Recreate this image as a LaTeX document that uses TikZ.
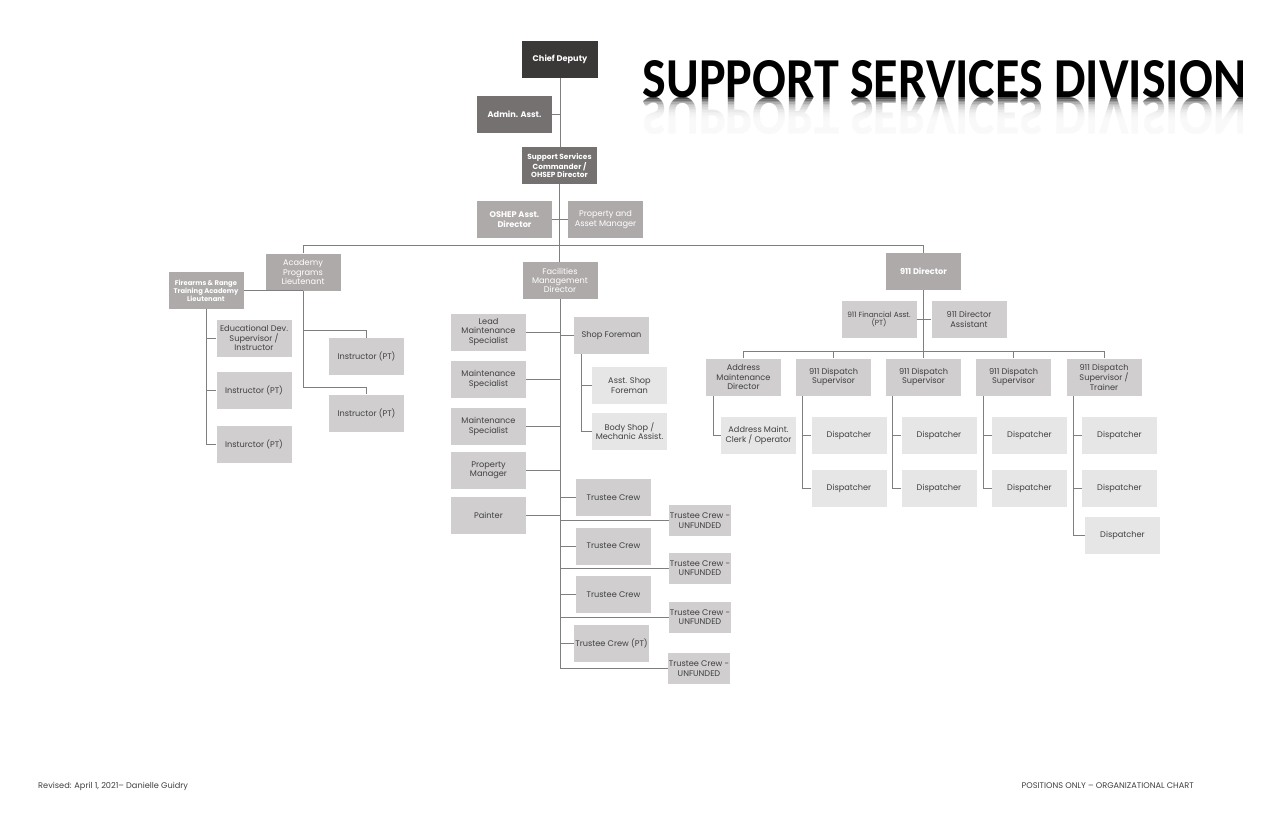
\documentclass[tikz,border=0pt]{standalone}
\usepackage{fontspec}
\setmainfont{Poppins}
\newfontfamily\titlefont{Carlito}
\usepackage{graphicx}
\definecolor{c1}{HTML}{3B3838}
\definecolor{c2}{HTML}{757171}
\definecolor{c3}{HTML}{AEAAAA}
\definecolor{c4}{HTML}{D0CECE}
\definecolor{c5}{HTML}{E7E6E6}
\definecolor{txt}{HTML}{404040}
\definecolor{lnc}{HTML}{7F7F7F}
\newcommand\fs{\fontsize{8.2}{9.3}\selectfont}
\newcommand\fsm{\fontsize{7.4}{8.6}\selectfont}
\newcommand\fss{\fontsize{6.8}{7.8}\selectfont}
\newcommand\ffs{\fontsize{8.2}{9.5}\selectfont}
\begin{document}
\begin{tikzpicture}[x=1pt,y=-1pt,
  bx/.style={minimum width=75pt, minimum height=37pt, inner sep=1pt, align=center, font=\fs, text=txt},
  dk/.style={bx, fill=c1, text=white, font=\fs\bfseries},
  md/.style={bx, fill=c2, text=white, font=\fs\bfseries},
  mg/.style={bx, fill=c3, text=white},
  lt/.style={bx, fill=c4},
  vl/.style={bx, fill=c5},
  un/.style={bx, fill=c4, minimum width=62pt, minimum height=31pt},
  ln/.style={draw=lnc, line width=0.8pt}]
\useasboundingbox (0,0) rectangle (1280,828);
\fill[white] (0,0) rectangle (1280,828);

% title with reflection
\node[anchor=base, inner sep=0, text=black!70] (titleR) at (944.5,97) {\scalebox{1}[-1]{\resizebox{603pt}{37pt}{\titlefont\bfseries SUPPORT SERVICES DIVISION}}};
\foreach \k in {0,...,13} \fill[white, opacity=0.24] (630,99+1.6*\k) rectangle (1260,140);
\node[anchor=base, inner sep=0, text=black] (title) at (944.5,97) {\resizebox{603pt}{37pt}{\titlefont\bfseries SUPPORT SERVICES DIVISION}};

% top chain
\node[dk, minimum width=76pt] (chief) at (560,59.5) {Chief Deputy};
\node[md] (admin) at (514.5,114) {Admin. Asst.};
\node[md, font=\fsm\bfseries] (ssc) at (559.5,165.5) {Support Services\\Commander /\\OHSEP Director};
\node[mg, font=\fs\bfseries] (oshep) at (514.5,219.5) {OSHEP Asst.\\Director};
\node[mg] (prop) at (605.5,219.5) {Property and\\Asset Manager};

% academy
\node[mg] (acad) at (303,272) {Academy\\Programs\\Lieutenant};
\node[mg, font=\fss\bfseries] (fire) at (206,290.5) {Firearms \& Range\\Training Academy\\Lieutenant};
\node[lt] (edu) at (254,338) {Educational Dev.\\Supervisor /\\Instructor};
\node[lt] (ins1) at (254,390.5) {Instructor (PT)};
\node[lt] (ins2) at (254,444) {Insturctor (PT)};
\node[lt] (apI1) at (366.5,356.5) {Instructor (PT)};
\node[lt] (apI2) at (366.5,413) {Instructor (PT)};

% facilities
\node[mg] (fac) at (560,280.5) {Facilities\\Management\\Director};
\node[lt] (lead) at (488.5,332) {Lead\\Maintenance\\Specialist};
\node[lt] (maint1) at (488.5,379.5) {Maintenance\\Specialist};
\node[lt] (maint2) at (488.5,426.5) {Maintenance\\Specialist};
\node[lt] (propm) at (488.5,470.5) {Property\\Manager};
\node[lt] (painter) at (488.5,515) {Painter};
\node[lt] (shop) at (611.5,335.5) {Shop Foreman};
\node[vl] (asst) at (629.5,385.5) {Asst. Shop\\Foreman};
\node[vl] (body) at (629.5,431) {Body Shop /\\Mechanic Assist.};
\node[lt] (tc1) at (613.5,497.5) {Trustee Crew};
\node[lt] (tc2) at (613.5,546) {Trustee Crew};
\node[lt] (tc3) at (613.5,594.5) {Trustee Crew};
\node[lt] (tcpt) at (611.5,643.5) {Trustee Crew (PT)};
\node[un] (un1) at (700,520.5) {Trustee Crew -\\UNFUNDED};
\node[un] (un2) at (700,568) {Trustee Crew -\\UNFUNDED};
\node[un] (un3) at (700,617) {Trustee Crew -\\UNFUNDED};
\node[un] (un4) at (699,668.5) {Trustee Crew -\\UNFUNDED};

% 911
\node[mg, font=\fs\bfseries] (dir911) at (923.5,271.5) {911 Director};
\node[lt, font=\fsm] (fin) at (879,319.5) {911 Financial Asst.\\(PT)};
\node[lt] (dasst) at (969,319.5) {911 Director\\Assistant};
\node[lt] (addr) at (743.5,377) {Address\\Maintenance\\Director};
\node[lt] (sup1) at (833.5,377) {911 Dispatch\\Supervisor};
\node[lt] (sup2) at (923.5,377) {911 Dispatch\\Supervisor};
\node[lt] (sup3) at (1013.5,377) {911 Dispatch\\Supervisor};
\node[lt] (trainer) at (1104,377) {911 Dispatch\\Supervisor /\\Trainer};
\node[vl] (clerk) at (758.5,435.5) {Address Maint.\\Clerk / Operator};
\node[vl] (d11) at (849,435.5) {Dispatcher};
\node[vl] (d12) at (849,488.5) {Dispatcher};
\node[vl] (d21) at (939,435.5) {Dispatcher};
\node[vl] (d22) at (939,488.5) {Dispatcher};
\node[vl] (d31) at (1029.5,435.5) {Dispatcher};
\node[vl] (d32) at (1029.5,488.5) {Dispatcher};
\node[vl] (d41) at (1119.5,435.5) {Dispatcher};
\node[vl] (d42) at (1119.5,488.5) {Dispatcher};
\node[vl] (d43) at (1122.5,535.5) {Dispatcher};

% footer
\node[anchor=west, inner sep=0, font=\ffs, text=black!75] (rev) at (38,786) {Revised: April 1, 2021– Danielle Guidry};
\node[anchor=east, inner sep=0, font=\ffs, text=black!75] (pos) at (1194,786) {POSITIONS ONLY – ORGANIZATIONAL CHART};

% connectors top
\draw[ln] (chief.south) -- (chief.south |- ssc.north);
\draw[ln] (admin.east) -- (admin.east -| chief.south);
\draw[ln] (ssc.south) -- (ssc.south |- fac.north);
\draw[ln] (oshep.east) -- (prop.west);
\draw[ln] (acad.north) -- (acad.north |- 0,245) -- (dir911.north |- 0,245) -- (dir911.north);

% academy connectors
\draw[ln] (fire.east) -- (fire.east -| acad.south);
\draw[ln] (acad.south) -- (acad.south |- 0,387) -| (apI2.north);
\draw[ln] (acad.south |- 0,330) -| (apI1.north);
\draw[ln] (fire.south) |- (ins2.west);
\draw[ln] (fire.south |- edu.west) -- (edu.west);
\draw[ln] (fire.south |- ins1.west) -- (ins1.west);

% facilities connectors
\draw[ln] (fac.south) |- (un4.west);
\foreach \n in {lead,maint1,maint2,propm,painter} \draw[ln] (\n.east) -- (\n.east -| fac.south);
\foreach \n in {shop,tc1,tc2,tc3,tcpt,un1,un2,un3} \draw[ln] (\n.west) -- (\n.west -| fac.south);
\coordinate (shopL) at ([xshift=8pt]shop.south west);
\draw[ln] (shopL) |- (body.west);
\draw[ln] (shopL |- asst.west) -- (asst.west);

% 911 connectors
\draw[ln] (dir911.south) -- (sup2.north);
\draw[ln] (fin.east) -- (dasst.west);
\draw[ln] (addr.north) -- (addr.north |- 0,351) -| (trainer.north);
\foreach \n in {sup1,sup3} \draw[ln] (\n.north) -- (\n.north |- 0,351);
\coordinate (aL) at ([xshift=8pt]addr.south west);
\draw[ln] (aL) |- (clerk.west);
\coordinate (s1) at ([xshift=7pt]sup1.south west);
\draw[ln] (s1) |- (d12.west);
\draw[ln] (s1 |- d11.west) -- (d11.west);
\coordinate (s2) at ([xshift=7pt]sup2.south west);
\draw[ln] (s2) |- (d22.west);
\draw[ln] (s2 |- d21.west) -- (d21.west);
\coordinate (s3) at ([xshift=8pt]sup3.south west);
\draw[ln] (s3) |- (d32.west);
\draw[ln] (s3 |- d31.west) -- (d31.west);
\coordinate (s4) at ([xshift=7pt]trainer.south west);
\draw[ln] (s4) |- (d43.west);
\draw[ln] (s4 |- d41.west) -- (d41.west);
\draw[ln] (s4 |- d42.west) -- (d42.west);
\end{tikzpicture}
\end{document}
